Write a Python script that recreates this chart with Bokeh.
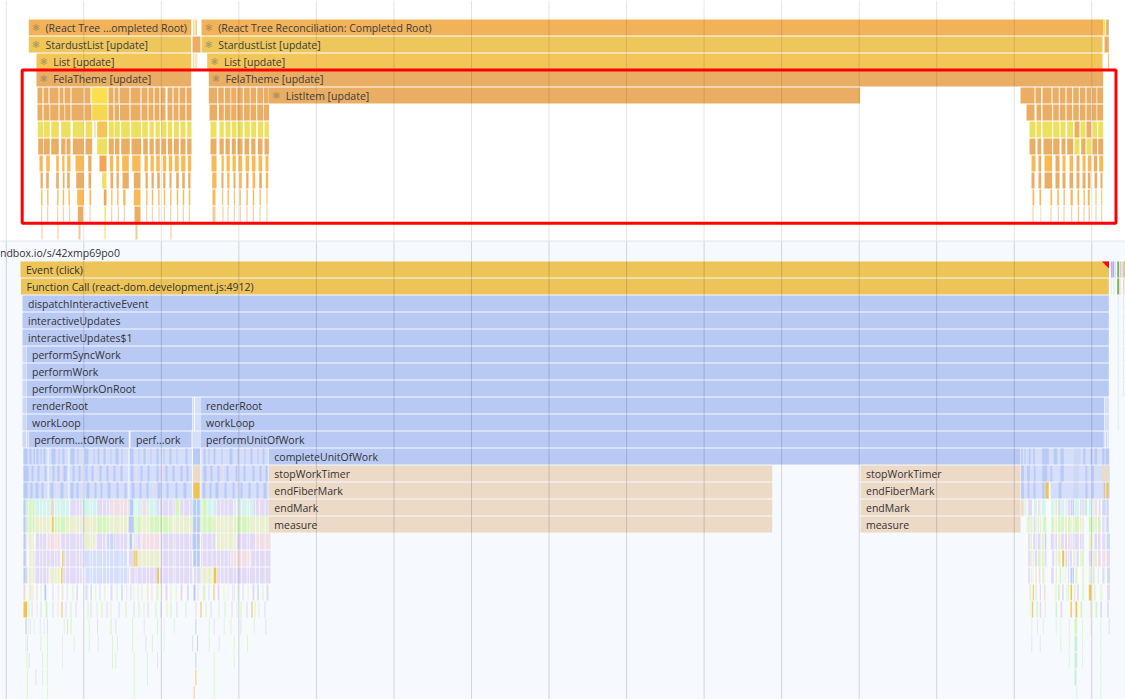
from bokeh.plotting import figure
from bokeh.models import Range1d, ColumnDataSource
from bokeh.core.properties import value
from bokeh.embed import file_html
from bokeh.resources import INLINE

# ---------------- data (time axis in px-equivalent units) ----------------
grid_times = [5.8, 83.3, 160.8, 238.4, 315.9, 393.5, 471.0, 548.5, 626.1,
              703.6, 781.1, 858.7, 936.2, 1013.8, 1091.3]

# top track: React component timings
top_names = ["(React Tree ...ompleted Root)", "(React Tree Reconciliation: Completed Root)",
             "StardustList [update]", "StardustList [update]",
             "List [update]", "List [update]",
             "FelaTheme [update]", "FelaTheme [update]",
             "ListItem [update]"]
top_start = [28.3, 201.0, 28.3, 201.0, 36.0, 206.7, 36.0, 208.3, 268.5]
top_end = [190.7, 1102.7, 190.7, 1102.0, 190.7, 1102.0, 190.7, 1102.7, 859.5]
top_depth = [0, 0, 1, 1, 2, 2, 3, 3, 4]
top_kind = ["R", "R", "S", "S", "L", "L", "T", "T", "T"]

top_palette = {"R": "#f2b25a", "S": "#edc65c", "L": "#f2c659", "T": "#e9ae63",
               "Y": "#ede05f", "B": "#f8e04e", "W": "#f6d752", "O": "#f9b955",
               "D": "#f5a452", "F": "#f1ca98", "G": "#f4c458", "X": "#d9b37f",
               "P": "#f6ca7a", "Q": "#f1d888"}

top_slivers = {
    0: "192.7-194Q 195-196.3G 1102.7-1105B 1105.7-1108.3X",
    1: "192-200T 1104-1108.3T",
    2: "192.7-193.3P 194.3-195P 196-196.7P 1107.3-1108.7P",
    4: "37-42T 43-48T 49-58T 59-63T 64-70T 71-83T 84-90T 91-107B 108-113T 114-118T 119-129T "
       "130-140T 141-147T 148-153T 154-159T 160-165T 167-172T 173-178T 179-185T 186-191T "
       "208.3-216.7T 217.7-223.3T 224.3-230T 230.7-236T 236.7-242.3T 243.3-249.3T 250-255.7T "
       "256.7-262.7T 263.3-268.2T "
       "1020-1034T 1035-1040.7T 1042-1051T 1052-1058.3T 1059.3-1065T 1066-1071.7T 1072.7-1078.3T "
       "1079.3-1085T 1086-1090.7T 1091.3-1096T 1096.7-1102.7T",
    5: "37-42T 43-49T 49.7-58T 59-64T 64.7-70T 71-83T 84-91T 91.7-107W 108-113T 114-118.5T "
       "119.5-129T 130-140T 141-147T 148-153T 154-159T 160-165T 167-172T 173-178T 179-185T 186-191T "
       "209-216.7T 218.3-223.3T 224.3-230T 230.7-236T 236.7-242.3T 243.3-249.3T 250-255.7T "
       "256.7-262.7T 263.3-268.5T "
       "1026-1034T 1036-1040.7T 1042-1051.7T 1052.7-1058.3T 1059.3-1065T 1066-1071.7T "
       "1072.7-1078.3T 1079.3-1085T 1086-1090.7T 1091.3-1096T 1096.7-1102.7T",
    6: "37.3-42.7Y 43.3-49.3Y 50.7-58.3Y 60.7-70Y 72.3-83.3Y 85-91.7Y 94-95P 96.7-106.7G "
       "108.3-113.3Y 114-119.3Y 120.7-129.3Y 130.7-140.7Y 141.7-147.3Y 149-153.3Y 155-159.3Y "
       "160.7-166Y 167.3-171.7Y 173.3-178.3Y 180-185Y 186.7-191Y "
       "210-216Y 219-223.3Y 225-230Y 231.3-236Y 237-242.3Y 244-249.3Y 250.7-255.7Y 257.3-262.7Y "
       "264-268.3Y "
       "1029-1035Y 1036-1040.7Y 1042-1051.7Y 1052.7-1059Y 1060-1065Y 1066.7-1072.7Y 1074-1079T "
       "1080-1085Y 1086-1090.7T 1092-1096.7Y 1097.7-1102.7Y",
    7: "37.7-42.7T 43.3-49.3T 50.7-58.3T 60.7-65T 66-70T 72.3-83.3T 85-91.7T 96.7-106.7Y "
       "108.3-113.3T 114.3-119T 120.7-129.3T 131-140.7T 142.7-147.3T 149-153.3T 155-159.3T "
       "161-165.7T 167.3-171.7T 173.3-178.3T 180-185T 186.7-191T "
       "210-216T 219-223.3T 225-229.3T 231.3-235.3T 237-242T 244-248.7T 250.7-255T 257.3-262T "
       "264-268.3T "
       "1029-1035T 1037-1040.7T 1043-1051.7T 1052.7-1059T 1061-1065T 1066.7-1072.7T 1074-1079Y "
       "1080.7-1085T 1086-1090.7Y 1092-1096.7T 1097.7-1102.7T",
    8: "39-42.3O 45.7-49.3O 55.7-58.3O 61.7-64O 66.7-70O 75-83.3O 87.7-91T 99-106D "
       "109.3-112.7O 115.7-118.7O 121.7-128.3O 131.7-140O 144-147.3O 150-153.3O 155.7-159.3O "
       "162.3-165.7O 168.3-171.7O 174.3-178.3O 180.7-185O 187.3-190.7O "
       "211-216O 221-223.3O 226-229.3O 232-235.3O 238-241.7O 245-248.7O 251.3-255O 258-261.7O "
       "265-268O "
       "1031-1035O 1038-1040.7T 1044-1051.7O 1055-1059T 1062-1065O 1069-1072.7O 1076-1079T "
       "1082-1085O 1087.3-1090.7O 1093.3-1096.7T 1098.7-1102.7O",
    9: "40-42.3T 45.7-48.3T 55.7-58.3T 62.3-64T 66.7-69.3T 75.7-83.3T 88-90.7T 101.7-106Y "
       "110-112.7T 116-118.3T 122-128.3T 133.3-140T 145-147.3T 151-153.3T 156.7-159.3T "
       "162.7-165T 169-171T 175.7-178.3T 181.7-184.3T 187.7-190T "
       "211.7-216O 221-223T 226.7-229O 233-235T 238.7-241.3O 245.7-248T 252-254.7O 258.7-261.3T "
       "265.3-267.7O "
       "1031-1034T 1038-1040.7T 1044-1051.7T 1055-1059T 1062-1065T 1069-1072.7T 1076-1079T "
       "1082-1085T 1087.3-1090T 1094-1096.7T 1100-1102T",
    10: "40.7-42O 46.7-48O 56.7-58O 62.3-63.7O 68-69.3O 76.7-83.3O 89-90.7O 103.3-106D "
        "110.7-112O 116.7-118O 122.7-125O 133.3-140O 145.7-147O 151.3-152.7O 157.7-159O "
        "163.3-164.7O 169.7-171O 176.3-177.7O 182.3-183.7O 188.3-189.7O "
        "212-215O 221.7-222.7O 227-228.3O 233.3-234.3O 239-240.3O 246-247.3O 252.3-253.7O "
        "259-260.3O 266-267O "
        "1032-1033.7O 1039-1040.7O 1050-1051.7O 1056.7-1058.3O 1063-1064.3O 1070-1072.3O "
        "1077-1078.7O 1083-1084.3O 1087.3-1089.3O 1095-1096O 1100.7-1101.7O",
    11: "40.7-41.7F 46.7-47.7F 56.7-57.7F 62.3-63.3F 68.7-69.7F 77.3-82.7T 89-90F 104-105.3B "
        "110.7-111.7F 117.3-118.3F 123.3-124.3F 134-140T 145.7-146.7F 151.3-152.3F 158-159F "
        "163.3-164.3F 169.7-170.7F 176.7-177.7F 182.3-183.3F 188.3-189.3F "
        "212-215F 222-223F 227-228F 233.3-234.3F 239.3-240.3F 246-247F 252.3-253.3F 259-260F "
        "266-267F "
        "1032-1033F 1040-1040.7F 1050-1051F 1057.3-1058.3F 1063-1064F 1070.7-1071.7F "
        "1077.3-1078.7F 1083-1084F 1088-1089.3F 1095-1096F 1100.7-1101.7F",
    12: "41-42F 57-58F 78-80F 104-105B 135-137F 170-171F",
}

# bottom track: main thread call stacks
bot_names = ["Event (click)", "Function Call (react-dom.development.js:4912)",
             "dispatchInteractiveEvent", "interactiveUpdates", "interactiveUpdates$1",
             "performSyncWork", "performWork", "performWorkOnRoot",
             "renderRoot", "renderRoot", "workLoop", "workLoop",
             "perform...tOfWork", "perf...ork", "performUnitOfWork",
             "completeUnitOfWork",
             "stopWorkTimer", "endFiberMark", "endMark", "measure",
             "stopWorkTimer", "endFiberMark", "endMark", "measure"]
bot_start = [20.0, 20.5, 22.0, 22.0, 22.0, 26.0, 26.0, 26.0, 26.0, 200.0, 26.0, 200.0,
             28.3, 130.0, 200.0, 268.3, 268.3, 268.3, 268.3, 268.3, 860.0, 860.0, 860.0, 860.0]
bot_end = [1108.5, 1108.3, 1108.3, 1108.3, 1108.3, 1108.3, 1108.3, 1108.3, 191.5, 1103.7,
           191.5, 1103.7, 128.3, 191.0, 1103.3, 1020.0, 771.7, 771.7, 771.7, 771.7,
           1020.0, 1020.0, 1020.0, 1020.0]
bot_depth = [0, 1, 2, 3, 4, 5, 6, 7, 8, 8, 9, 9, 10, 10, 10, 11, 12, 13, 14, 15, 12, 13, 14, 15]
bot_kind = ["E", "E"] + ["J"] * 14 + ["M"] * 8

bot_palette = {"E": "#edc457", "J": "#b8c9f4", "M": "#ecd9c6",
               "b": "#b9caf5", "q": "#cdd8f7", "p": "#d5defa", "g": "#d4f5bd",
               "m": "#c8f0d6", "c": "#d3f3ee", "u": "#e2daf6", "y": "#e9efcf",
               "k": "#f2dfe5", "e": "#eed9c4", "o": "#f1c24e", "w": "#ffffff",
               "U": "#a99be6", "V": "#d0c8f0", "N": "#7cb35d", "Q": "#e2c98a"}

bot_slivers = {
    0: "1110.7-1112U 1112.3-1113.3U 1114-1115V 1116.7-1118.7N 1119.5-1121V 1122-1125Q",
    1: "1110.7-1111.3p 1113-1114g 1116.7-1118.7N 1119-1120e 1122.5-1124e",
    2: "1117.3-1118m 1123-1123.7u", 3: "1117.3-1118m 1123-1123.7u", 4: "1117.3-1118m 1123-1123.7u",
    5: "22-25.5q 1117.3-1118m 1123-1123.7u", 6: "22-25.5q 1117.3-1118m 1123-1123.7u",
    7: "22-25.5q 1117.3-1118m 1123-1123.7u",
    8: "22-25.5q 192-193.5p 194.5-199.5p 1104.3-1108.3p 1117.3-1118m",
    9: "22-25.5q 192-193.5p 194.5-199.5p 1104.3-1108.3p 1117.3-1118m",
    10: "22-25.5q 26.2-28q 192-199.5p 1103.8-1105p 1105.5-1106.5q 1107-1108.3p",
    11: "23-268p 23-27b 29-31b 33-34.5b 36-38b 40-41b 43-45b 47.2-48w 51-55b 58-59b 62-64b "
        "68-68.8w 70-74b 77-78b 82.8-83.6w 84-88b 93-94b 97-99b 103-105b 110-111b 115-118b "
        "121-122b 128-128.8w 129.5-133b 138-139b 143-145b 150-151b 156-158b 163-164b 169-171b "
        "176-177b 185-187b 191.5-192.3w 192.5-199.5b 200-200.8w 203-205b 208-209b 213-215b "
        "221-222b 229-232b 237-238b 244-245b 250-252b 257-258b 262-264b "
        "1020.5-1109p 1020.7-1022b 1024-1025b 1028.3-1030b 1032.7-1034.3b 1041.7-1048.3b "
        "1053.3-1056.7b 1060-1063.3b 1073.3-1080q 1082.7-1085b 1090-1091.7b 1094-1096.7b "
        "1101.7-1104b 1105-1108.3b",
    12: "23-268p 23-28b 31-33b 37-39b 44-46b 47.2-48w 52-54b 57-59b 60-61k 63-66b 68-68.8w "
        "72-74b 78-80b 82.8-83.6w 85-87b 91-93b 95-96k 99-101b 106-108b 113-115b 120-122b "
        "128-128.8w 130-133b 135-136k 140-142b 147-149b 156-158b 161-162k 165-167b 172-174b "
        "180-182b 186-188b 191.5-192.3w 192.5-199.5e 200-200.8w 203-206b 210-212b 217-219b "
        "222-223k 226-228b 235-237b 243-245b 252-254b 259-261b 265-267b "
        "1020.7-1109.3p 1020.7-1023.3b 1026.7-1029.3b 1033.3-1035b 1041.7-1046.7b 1050-1051.7b "
        "1060-1063.3b 1073.3-1078.3q 1085-1086.7b 1091.7-1093.3b 1101.7-1104e 1104.5-1108.3e",
    13: "23-268p 23-27b 30-32b 35-38b 41-43b 47.2-48w 50-53b 56-57k 60-63b 68-68.8w 70-73b "
        "76-78b 82.8-83.6w 86-89b 94-96b 100-102b 107-110b 116-118b 124-126b 128-128.8w "
        "131-134b 139-141b 146-148b 152-153k 157-160b 166-168b 175-177b 183-186b 191.5-192.3w "
        "193-199o 200-200.8w 202-205b 209-211b 215-218b 224-226b 232-234b 240-242b 248-250b "
        "256-258b 263-266b "
        "1020.7-1109.3p 1020.7-1023.3b 1027-1029b 1033-1035b 1041.7-1044b 1045-1048.3o "
        "1048.3-1050w 1058-1061b 1073-1078q 1085-1087b 1091.7-1093.3b 1103.3-1104.3o 1106-1108o",
    14: "23-268c 23-26b 26.7-34.3g 35-50c 50-53.3e 55-66.7c 68.4-69w 70-81.7u 83.3-96.7c "
        "96.7-110u 110-128.3k 129.3-132.7b 133.3-140c 140.7-146.7k 146.7-156.7c 156.7-166.7u "
        "166.7-191.7u 175-180g 192.7-199.3b 201-206.7g 206.7-213.3c 215-233.3u 233.3-253.3c "
        "253.3-268u 238-240k 258-260k "
        "1020.7-1024e 1024.7-1026.7c 1027.7-1031.7u 1033.3-1036.7c 1037.3-1039.3k 1040-1045c "
        "1050.7-1053.3c 1054-1056.7g 1057.3-1060u 1060.7-1065c 1066-1070u 1070.7-1073.3b "
        "1074-1078.3c 1079.3-1083.3u 1084-1086.7m 1088.3-1093.3c 1094-1097.3k 1098.3-1100u "
        "1101.7-1108.3q",
    15: "23-268y 23-26b 26.7-33.3g 35-50y 51.7-53o 53.5-66g 68-80y 81-83k 83.3-96.7y "
        "96.7-108g 110-126.7y 128.3-133.3b 133.3-140g 140-150y 150-170g 170-190y 192.7-199.3b "
        "201-213.3g 213.3-235y 235-250g 250-268y "
        "1026-1027.3g 1027.7-1030y 1030.7-1032.7g 1033.3-1035u 1036-1038.3g 1039.3-1041.7y "
        "1042.7-1045.7g 1050.7-1053.3g 1054-1056.7y 1057.3-1060g 1060.7-1063.3g 1064-1066.7y "
        "1067.3-1070g 1070.7-1073.3y 1074-1078.3g 1079-1083.3y 1088.3-1093.3g 1094-1096.7y "
        "1097.3-1100g 1101.7-1104u 1105-1108.3q",
    16: "23-26b 27.3-33.3y 35-46.7u 47.3-60k 60.7-82.7u 84-95y 95.7-105u 105.7-115q "
        "115.7-127.7u 129-131.7b 133.3-140u 140.7-160k 160.7-191u 192-199.3b 200.5-215u "
        "215.7-235y 235.7-255u 255.7-270k "
        "1027.7-1029.3u 1030-1031.7y 1032.7-1035u 1036-1040u 1040.7-1044y 1044.7-1045.7b "
        "1050-1053.3u 1054-1056.7u 1057.3-1060y 1060.7-1063.3u 1064-1066.7u 1067.3-1070k "
        "1070.7-1073.3u 1074-1078.3u 1079.3-1083.3u 1088.3-1092.7y 1094-1096.7u 1097.3-1100u "
        "1101.7-1105u 1106-1109.3q",
    17: "23-26b 28.3-33.3y 34-60u 61.7-63o 63.5-82.7u 84-126.7p 128.3-133.3u 133.3-137.3o "
        "137.8-160y 160.7-191.3u 192.7-199.3b 200.5-230u 230.7-250k 250.7-270u "
        "1027.7-1030u 1030.7-1033.3y 1034.3-1036.7u 1037.3-1040g 1040.7-1044y 1045-1045.7b "
        "1051.7-1054u 1055-1060y 1061.7-1064o 1065-1068.3u 1069.3-1071.7u 1072.7-1075y "
        "1076-1078.3u 1080-1083.3g 1088.3-1091.7u 1092.7-1096.7y 1097.3-1100u 1101.7-1105k "
        "1106-1109.3u",
    18: "23-26.7b 27.3-33.3y 34-48u 48.7-60y 60.7-62o 62.7-82u 85-128.3p 130-156.7u "
        "156.7-158.5o 159-191.7u 193.3-200u 200.7-213.3y 213.3-216.3o 216.7-270u "
        "1027.7-1029.3u 1030.7-1032.7y 1035-1036.7y 1038.3-1040k 1041.7-1044y 1050.7-1053.3u "
        "1055-1056.7y 1059.3-1060.7g 1063.3-1065y 1066.7-1068.3u 1070-1073.3b 1075-1076.7g "
        "1081.7-1083.3y 1088.3-1090.7y 1092.7-1094u 1096.7-1098.3g 1101.7-1104u 1106.7-1109.3q",
    19: "23-25e 28-33y 36-37u 40-41g 44-46b 52-53u 57-58k 61-63y 66-67u 72-73g 76-77b 85-87u "
        "90-91b 95-96g 99-100u 104-105y 110-112u 116-117g 121-122b 126-127u 130-131u 133-134y "
        "137-138g 141-142u 146-148y 151-152k 156-158y 161-162g 165-167u 170-171y 175-176g "
        "180-182u 187-188b 193-195b 197-198u 202-205y 208-209u 213-214o 217-219u 223-224g "
        "227-228y 232-234u 237-238g 242-243u 247-248y 252-254u 257-258b 262-263g 266-268u "
        "1029-1030.7y 1032-1033.3o 1035-1036.7y 1039.3-1040.7u 1043.3-1045k 1054-1056y "
        "1057.3-1059.3g 1061.7-1063.3u 1066-1068.3g 1070-1071.7o 1073.3-1075y 1076.7-1078.3u "
        "1081.7-1083.3g 1088.3-1090.7o 1093.3-1095y 1100-1101.7g 1106.7-1109.3u",
    20: "23-26.7o 28-29g 31-32u 36-37y 40-41u 45-47g 52-53u 57-58y 61-62o 65-66u 70-71g "
        "75-76u 87-88g 90-91u 96-97y 101-102g 106-107u 110-111y 118-119u 125-126g 133-134u "
        "138-139g 143-144y 147-148u 155-156g 160-161u 166-167y 170-171g 176-177u 185-186g "
        "195-196u 200-201o 205-206g 210-211u 218-219y 224-225g 231-232u 236-237y 240-241g "
        "246-247u 251-252o 254-255g 258-259y 264-265u "
        "1030-1031y 1031.7-1032.7o 1036-1037.3g 1039.3-1040.7u 1044-1045.3y 1055-1056.7g "
        "1060-1061.7u 1070-1071.3o 1075-1076.7o 1080-1081.7g 1089.3-1090.7y 1095-1096.7g "
        "1100-1101.3q 1106.7-1108.3u",
    21: "25-26b 27.3-28g 29.3-30u 33.3-34g 39.3-40u 43.3-44g 46.7-47.5u 63.3-64g 66.7-67.5u "
        "70-71g 88.3-89g 96.7-97.5u 110-111g 115-115.8u 131.7-132.5g 143.3-144u 156.7-157.5g "
        "163.3-164k 173.3-174g 195-195.8b 208.3-209g 213.3-214u 223.3-224g 230-230.8g "
        "240-240.8u 253.3-254g 265-265.8u "
        "1031-1031.7g 1036.7-1037.3u 1042.3-1043g 1055.3-1056g 1060-1060.7y 1068.3-1069u "
        "1074-1076.7g 1081.7-1082.3g 1090-1090.7y 1100-1100.7g 1108.3-1109q",
    22: "25-25.8g 26.7-27.5u 40-40.8g 46.7-47.5g 61.7-62.5k 73.3-74g 88.3-89g 97.3-98u "
        "111.7-112.5g 116.7-117.5g 131.7-132.5g 145-145.8u 151.7-152.5g 163.3-164g "
        "191.7-192.5u 196.7-197.5b 208.3-209g 218.3-219u 233.3-234g 246.7-247.5g "
        "1031-1031.7u 1039.3-1040u 1060-1060.7g 1068.3-1069g 1074-1076.7m 1081.7-1082.3g "
        "1100-1100.7g",
    23: "26-26.8g 28.3-29u 41.7-42.5g 46.7-47.5g 61.7-62.5y 111.7-112.5g 115-115.8g "
        "133.3-134g 146.7-147.5g 156.7-157.5u 195-195.8b 213.3-214g 233.3-234g "
        "1068.3-1069g 1074-1076.7m 1081.7-1082.3g 1100-1100.7g",
    24: "26.7-27.5g 35-35.8u 41.7-42.5g 46.7-47.5g 133.3-134g 146.7-147.5g 195-195.8o "
        "213.3-214g 1074-1076m 1100-1100.7g",
    25: "26.7-27.5g 46.7-47.5g 133.3-134g 193.3-194o 213.3-214g 1076-1076.7m 1100-1100.7g",
}

# fine call boundaries (thin white gaps) inside the dense call-stack blocks
gap_times_left = [25.5, 28.2, 31.6, 34.6, 39.1, 42.2, 46.1, 49.6, 54.2, 56.6, 59.6, 65.1, 69.2,
                  75.6, 79.1, 81.6, 89.6, 92.1, 96.2, 102.1, 106.2, 109.1, 113.2, 119.6, 123.1,
                  127.2, 134.6, 136.6, 141.6, 146.1, 149.2, 153.6, 159.1, 162.2, 168.1, 172.6,
                  174.6, 179.1, 183.2, 189.1, 196.1, 201.6, 206.6, 211.6, 216.1, 220.1, 223.6,
                  227.6, 233.1, 236.1, 241.1, 246.6, 249.1, 255.1, 259.1, 264.6]
gap_times_right = [1023.5, 1026.3, 1031.9, 1037.0, 1041.0, 1049.5, 1054.5, 1057.0, 1064.0,
                   1067.0, 1071.9, 1079.0, 1081.3, 1087.5, 1092.0, 1097.0, 1101.2, 1105.5]
gap_depths = (14, 19)

track_header = "ndbox.io/s/42xmp69po0"
highlight_span = (21.7, 1115.5)   # time range of the highlighted block
highlight_depths = (3, 12)        # depth range of the highlighted block (top track)

# ---------------- layout ----------------
W, H = 1125, 699
TOP_ROW0, BOT_ROW0, ROW, BAR_H = 19.0, 261.0, 17.0, 16.0
SPLIT_Y = 240.5
PAD = 5.5
FONT = "Open Sans"
FS = "10.5px"


def top_y(d):
    return TOP_ROW0 + ROW * d


def bot_y(d):
    return BOT_ROW0 + ROW * d


def parse(rows, palette, yfun):
    L, R, T, B, C = [], [], [], [], []
    for d, s in rows.items():
        for tok in s.split():
            rng, key = tok[:-1], tok[-1]
            a, b = rng.split("-")
            L.append(float(a)); R.append(float(b))
            T.append(yfun(d)); B.append(yfun(d) + BAR_H)
            C.append(palette[key])
    return ColumnDataSource(dict(left=L, right=R, top=T, bottom=B, color=C))


p = figure(width=W, height=H, x_range=Range1d(0, W), y_range=Range1d(H, 0),
           output_backend="svg", toolbar_location=None, min_border=0)
p.axis.visible = False
p.grid.visible = False
p.outline_line_color = None
p.background_fill_color = "#ffffff"
p.border_fill_color = "#ffffff"

# bottom track background + separator
p.quad(left=[-20], right=[1200], top=[SPLIT_Y], bottom=[720], fill_color="#f6f9fe", line_color=None)
p.segment(x0=[-20], x1=[1200], y0=[SPLIT_Y], y1=[SPLIT_Y], line_color="#e1e4e8", line_width=1)

# top track bars
src_top = ColumnDataSource(dict(
    left=top_start, right=top_end,
    top=[top_y(d) for d in top_depth], bottom=[top_y(d) + BAR_H for d in top_depth],
    color=[top_palette[k] for k in top_kind]))
p.quad(left="left", right="right", top="top", bottom="bottom", fill_color="color",
       line_color=None, source=src_top)
p.quad(left="left", right="right", top="top", bottom="bottom", fill_color="color",
       line_color=None, source=parse(top_slivers, top_palette, top_y))

# bottom track bars
src_bot = ColumnDataSource(dict(
    left=bot_start, right=bot_end,
    top=[bot_y(d) for d in bot_depth], bottom=[bot_y(d) + BAR_H for d in bot_depth],
    color=[bot_palette[k] for k in bot_kind]))
p.quad(left="left", right="right", top="top", bottom="bottom", fill_color="color",
       line_color=None, source=src_bot)
p.quad(left="left", right="right", top="top", bottom="bottom", fill_color="color",
       line_color=None, source=parse(bot_slivers, bot_palette, bot_y))

# thin white call boundaries inside dense blocks
gx = gap_times_left + gap_times_right
g0, g1 = gap_depths
p.segment(x0=gx, x1=gx, y0=[bot_y(g0)] * len(gx), y1=[bot_y(g1) + BAR_H] * len(gx),
          line_color="#ffffff", line_alpha=0.75, line_width=0.8)

# time grid lines
p.segment(x0=grid_times, x1=grid_times, y0=[0] * len(grid_times), y1=[SPLIT_Y - 0.5] * len(grid_times),
          line_color="#000000", line_alpha=0.11, line_width=1)
p.segment(x0=grid_times, x1=grid_times, y0=[SPLIT_Y + 0.5] * len(grid_times), y1=[720] * len(grid_times),
          line_color="#000000", line_alpha=0.15, line_width=1)

# labels: top track (react icon + name)
p.text(x=[s + 7.2 for s in top_start], y=[top_y(d) + BAR_H / 2 for d in top_depth],
       text=["\u269b"] * len(top_names), text_align="center", text_baseline="middle",
       text_font=value("DejaVu Sans"), text_font_size="10px", text_color="#666666")
p.text(x=[s + 16.7 for s in top_start], y=[top_y(d) + BAR_H / 2 + 0.5 for d in top_depth],
       text=top_names, text_align="left", text_baseline="middle",
       text_font=value(FONT), text_font_size=FS, text_color="#3c3c3c")

# labels: bottom track
p.text(x=[s + PAD for s in bot_start], y=[bot_y(d) + BAR_H / 2 + 0.5 for d in bot_depth],
       text=bot_names, text_align="left", text_baseline="middle",
       text_font=value(FONT), text_font_size=FS, text_color="#333333")
p.text(x=[-0.5], y=[bot_y(-1) + BAR_H / 2 + 0.5], text=[track_header], text_align="left",
       text_baseline="middle", text_font=value(FONT), text_font_size=FS, text_color="#333333")

# long-task marker (red corner on the Event bar)
ev_end, ev_top = bot_end[0], bot_y(bot_depth[0])
p.patch(x=[ev_end - 7, ev_end, ev_end], y=[ev_top, ev_top, ev_top + 7], fill_color="#ff0000",
        line_color=None)

# highlight box
p.quad(left=[highlight_span[0]], right=[highlight_span[1]],
       top=[top_y(highlight_depths[0]) - 0.5], bottom=[top_y(highlight_depths[1]) - 0.3],
       fill_alpha=0, line_color="#ff0000", line_width=3)

open("out.html", "w").write(file_html(p, INLINE))
